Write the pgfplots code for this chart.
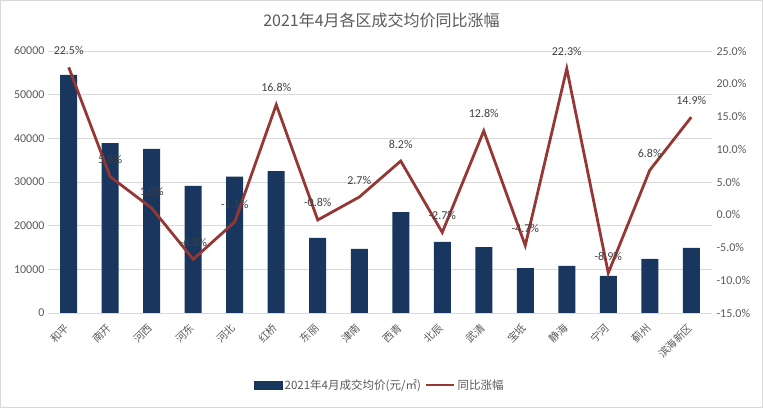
\documentclass[border=0pt]{standalone}
\usepackage{fontspec}
\setmainfont{Carlito}
\newfontfamily\cjk{Noto Sans CJK SC}
\usepackage{pgfplots}
\pgfplotsset{compat=1.18}
\definecolor{barblue}{RGB}{24,54,94}
\definecolor{linered}{RGB}{149,55,53}
\definecolor{gridgray}{RGB}{217,217,217}
\definecolor{txtgray}{RGB}{89,89,89}
\definecolor{lblgray}{RGB}{64,64,64}
\begin{document}
\begin{tikzpicture}
% chart frame
\draw[gridgray, line width=0.75bp] (0.4bp,0.4bp) rectangle (762.6bp,407.6bp);
\node[text=txtgray, font=\cjk\fontsize{16bp}{18bp}\selectfont] at (381.5bp,388bp) {2021年4月各区成交均价同比涨幅};

% average price (bars, left axis)
\begin{axis}[
  at={(48bp,95bp)}, anchor=south west, scale only axis,
  width=664bp, height=262bp,
  xmin=-0.5, xmax=15.5, ymin=0, ymax=60000,
  ytick={0,10000,...,60000},
  xtick={0,...,15},
  xticklabels={和平,南开,河西,河东,河北,红桥,东丽,津南,西青,北辰,武清,宝坻,静海,宁河,蓟州,滨海新区},
  x tick label style={font=\cjk\fontsize{10.5bp}{12bp}\selectfont, text=txtgray, xshift=-1bp, yshift=-13bp, rotate=45, anchor=east, inner sep=0bp},
  y tick label style={font=\fontsize{12bp}{14bp}\selectfont, text=txtgray},
  /pgf/number format/assume math mode=true,
  /pgf/number format/set thousands separator={},
  scaled y ticks=false,
  major tick length=0pt,
  axis line style={draw=none},
  ymajorgrids, grid style={gridgray, line width=0.75bp},
  clip=false,
]
\addplot[ybar, bar width=17bp, fill=barblue, draw=none] coordinates {
(0,54500) (1,38900) (2,37600) (3,29100) (4,31200) (5,32500) (6,17200) (7,14700)
(8,23100) (9,16300) (10,15100) (11,10300) (12,10800) (13,8500) (14,12400) (15,14900)
};
\end{axis}

% year-on-year change (line, right axis)
\begin{axis}[
  at={(48bp,95bp)}, anchor=south west, scale only axis,
  width=664bp, height=262bp,
  xmin=-0.5, xmax=15.5, ymin=-15, ymax=25,
  ytick={-15,-10,...,25},
  axis y line*=right, axis x line=none,
  axis line style={draw=none},
  major tick length=0pt,
  y tick label style={font=\fontsize{12bp}{14bp}\selectfont, text=txtgray, xshift=1bp},
  /pgf/number format/assume math mode=true,
  yticklabel={\pgfmathprintnumber[fixed,fixed zerofill,precision=1]{\tick}\%},
  clip=false,
  legend style={at={(0.5,-0.275)}, anchor=center, draw=none, fill=none,
    legend columns=2, font=\cjk\fontsize{11.5bp}{13bp}\selectfont, text=txtgray,
    /tikz/every even column/.append style={column sep=2bp}},
]
\addlegendimage{legend image code/.code={\fill[barblue] (0bp,-4bp) rectangle (28bp,4bp);}}
\addlegendentry{2021年4月成交均价(元/㎡)}
\addplot[color=linered, line width=2.8bp, mark=none,
  nodes near coords={\pgfmathprintnumber[fixed,fixed zerofill,precision=1]{\pgfplotspointmeta}\%},
  every node near coord/.append style={font=\fontsize{12bp}{14bp}\selectfont, text=lblgray, anchor=base, inner sep=0pt, yshift=13bp},
  legend image code/.code={\draw[linered, line width=2.8bp] (0bp,0bp) -- (28bp,0bp);},
] coordinates {
(0,22.5) (1,5.8) (2,1.0) (3,-6.8) (4,-1.1) (5,16.8) (6,-0.8) (7,2.7)
(8,8.2) (9,-2.7) (10,12.8) (11,-4.7) (12,22.3) (13,-8.9) (14,6.8) (15,14.9)
};
\addlegendentry{同比涨幅}
\end{axis}
\end{tikzpicture}
\end{document}
